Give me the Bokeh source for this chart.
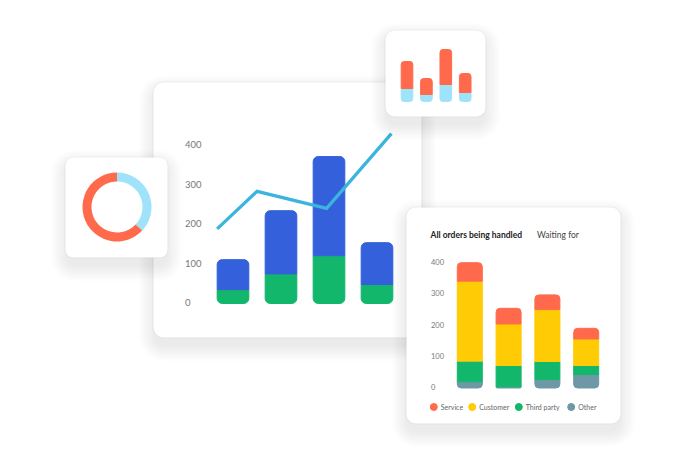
import math
from bokeh.plotting import figure
from bokeh.models import Range1d
from bokeh.embed import file_html
from bokeh.resources import INLINE
from bokeh.core.properties import value

# ---------------- data ----------------
main_green = [35, 75, 121, 48]
main_blue = [76, 160, 251, 106]
main_line_x = [-0.33, 0.5, 1.95, 3.3]
main_line_y = [189, 284, 241, 430]
main_ticks = [0, 100, 200, 300, 400]

donut_values = [37, 63]

mini_blue = [13, 7, 17, 9]
mini_red = [27, 16, 35, 19]

orders_title = "All orders being handled"
orders_subtitle = "Waiting for"
orders_series = ["Service", "Customer", "Third party", "Other"]
orders_other = [20, 4, 27, 43]
orders_third = [66, 68, 58, 29]
orders_customer = [256, 133, 166, 85]
orders_service = [59, 50, 47, 34]
orders_ticks = [0, 100, 200, 300, 400]

# ---------------- style ----------------
BLUE = "#3461db"
GREEN = "#13b76c"
LINE = "#3bb4de"
LIGHT = "#9ee3f9"
RED = "#ff6a4d"
YELLOW = "#ffcb05"
SLATE = "#6e98a5"
FONT = value("Lato")

W, H = 676, 446
OX, OY = 0, 0   # page offset of the frame
p = figure(width=W, height=H, output_backend="svg", toolbar_location=None, tools="",
           x_range=Range1d(OX, OX + W), y_range=Range1d(OY + H, OY),
           x_axis_location=None, y_axis_location=None, min_border=0,
           outline_line_color=None, background_fill_color="white",
           border_fill_color="white")
p.xgrid.grid_line_color = None
p.ygrid.grid_line_color = None

xr, yr = {}, {}


def add_ranges(name, x0, dx, y0, dy):
    # data x -> page X = x0 + dx*x ; data y -> page Y = y0 - dy*y
    xr[name] = Range1d((OX - x0) / dx, (OX + W - x0) / dx)
    yr[name] = Range1d((y0 - (OY + H)) / dy, (y0 - OY) / dy)


add_ranges("m", 232.5, 48.0, 303.0, 0.395)
add_ranges("d", 116.5, 1.0, 206.5, 1.0)
add_ranges("s", 406.5, 19.4, 101.0, 1.0)
add_ranges("o", 469.3, 38.8, 387.5, 0.3125)
p.extra_x_ranges = xr
p.extra_y_ranges = yr


def card(l, r, t, b, radius):
    n = 10
    for i in range(n):
        g = 1 + i * 1.6
        p.quad(left=l - g + 1, right=r + g - 1, top=t - g + 8, bottom=b + g + 8,
               fill_color="black", fill_alpha=0.006, line_color=None,
               border_radius=int(radius + g))
    p.quad(left=l - 1, right=r + 1, top=t - 1, bottom=b + 1, fill_color="black",
           fill_alpha=0.03, line_color=None, border_radius=radius + 1)
    p.quad(left=l, right=r, top=t, bottom=b, fill_color="white",
           line_color=None, border_radius=radius)


# ---------------- main card ----------------
card(153, 421, 82, 337, 10)
mx = list(range(len(main_green)))
main_total = [g + b for g, b in zip(main_green, main_blue)]
p.vbar(x=mx, bottom=0, top=main_green, width=0.66, color=GREEN,
       border_radius=(0, 0, 5, 5), x_range_name="m", y_range_name="m")
p.vbar(x=mx, bottom=main_green, top=main_total, width=0.66, color=BLUE,
       border_radius=(5, 5, 0, 0), x_range_name="m", y_range_name="m")
p.line(main_line_x, main_line_y, line_width=3.3, color=LINE, line_join="miter",
       x_range_name="m", y_range_name="m")
p.text(x=[-1.0] * len(main_ticks), y=main_ticks, text=[str(t) for t in main_ticks],
       text_align="left", text_baseline="middle", text_font=FONT,
       text_font_size="9.5px", text_color="#777777", y_offset=-1,
       x_range_name="m", y_range_name="m")

# ---------------- donut card ----------------
card(65, 167, 157, 257, 8)
tot = sum(donut_values)
starts, ends = [], []
a = math.pi / 2
for v in donut_values:
    starts.append(a)
    a = a - 2 * math.pi * v / tot
    ends.append(a)
p.annular_wedge(x=[0, 0], y=[0, 0], inner_radius=25.5, outer_radius=34.5,
                inner_radius_units="screen", outer_radius_units="screen",
                start_angle=starts, end_angle=ends, direction="clock",
                fill_color=[LIGHT, RED], line_color=None,
                x_range_name="d", y_range_name="d")

# ---------------- mini bar card ----------------
card(385, 485, 30, 116, 9)
sx = list(range(len(mini_blue)))
mini_total = [b + r for b, r in zip(mini_blue, mini_red)]
p.vbar(x=sx, bottom=0, top=mini_blue, width=0.6, color=LIGHT,
       border_radius=(0, 0, 3, 3), x_range_name="s", y_range_name="s")
p.vbar(x=sx, bottom=mini_blue, top=mini_total, width=0.6, color=RED,
       border_radius=(3, 3, 0, 0), x_range_name="s", y_range_name="s")

# ---------------- orders card ----------------
card(406, 620, 207, 423, 9)
ox = list(range(len(orders_other)))
b1 = orders_other
b2 = [a + b for a, b in zip(b1, orders_third)]
b3 = [a + b for a, b in zip(b2, orders_customer)]
b4 = [a + b for a, b in zip(b3, orders_service)]
p.vbar(x=ox, bottom=0, top=b1, width=0.645, color=SLATE,
       border_radius=(0, 0, 4, 4), x_range_name="o", y_range_name="o")
p.vbar(x=ox, bottom=b1, top=b2, width=0.645, color=GREEN,
       x_range_name="o", y_range_name="o")
p.vbar(x=ox, bottom=b2, top=b3, width=0.645, color=YELLOW,
       x_range_name="o", y_range_name="o")
p.vbar(x=ox, bottom=b3, top=b4, width=0.645, color=RED,
       border_radius=(4, 4, 0, 0), x_range_name="o", y_range_name="o")
p.text(x=[-1.0] * len(orders_ticks), y=orders_ticks, text=[str(t) for t in orders_ticks],
       text_align="left", text_baseline="middle", text_font=FONT,
       text_font_size="7.5px", text_color="#7a7a7a", y_offset=-1,
       x_range_name="o", y_range_name="o")
p.text(x=[430], y=[234], text=[orders_title], text_align="left", text_baseline="middle",
       text_font=FONT, text_font_style="bold", text_font_size="8.5px", text_color="#222222")
p.text(x=[536.5], y=[234], text=[orders_subtitle], text_align="left", text_baseline="middle",
       text_font=FONT, text_font_size="8.5px", text_color="#444444")
leg_x = [433.3, 471.7, 518.3, 570.7]
leg_colors = [RED, YELLOW, GREEN, SLATE]
p.scatter(x=leg_x, y=[406.5] * 4, size=7, color=leg_colors, marker="circle")
p.text(x=[lx + 7 for lx in leg_x], y=[406.5] * 4, text=orders_series,
       text_align="left", text_baseline="middle", text_font=FONT,
       text_font_size="7px", text_color="#666666")

open("out.html", "w").write(file_html(p, INLINE))
